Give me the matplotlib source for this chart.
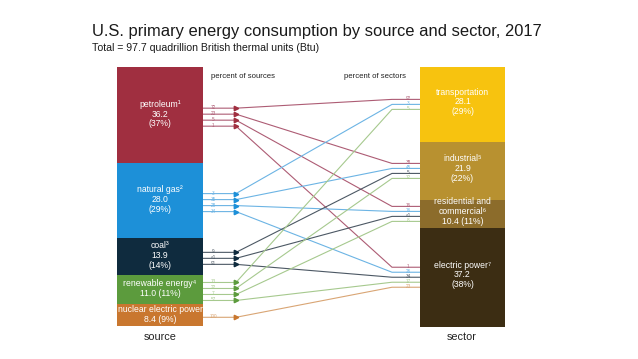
import matplotlib
matplotlib.use("Agg")
import matplotlib.pyplot as plt
from matplotlib.patches import Rectangle

plt.rcParams['font.family'] = ['Liberation Sans', 'DejaVu Sans']

# ---------------- data ----------------
title = "U.S. primary energy consumption by source and sector, 2017"
subtitle = "Total = 97.7 quadrillion British thermal units (Btu)"
total = 97.7

sources = ["petroleum", "natural gas", "coal", "renewable energy", "nuclear electric power"]
source_labels = ["petroleum\u00b9\n36.2\n(37%)", "natural gas\u00b2\n28.0\n(29%)",
                 "coal\u00b3\n13.9\n(14%)", "renewable energy\u2074\n11.0 (11%)",
                 "nuclear electric power\n8.4 (9%)"]
source_values = [36.2, 28.0, 13.9, 11.0, 8.4]

sectors = ["transportation", "industrial", "residential and commercial", "electric power"]
sector_labels = ["transportation\n28.1\n(29%)", "industrial\u2075\n21.9\n(22%)",
                 "residential and\ncommercial\u2076\n10.4 (11%)", "electric power\u2077\n37.2\n(38%)"]
sector_values = [28.1, 21.9, 10.4, 37.2]

# flows: (source index, sector index, percent of source, percent of sector)
flow_source = [0, 0, 0, 0, 1, 1, 1, 1, 2, 2, 2, 3, 3, 3, 3, 4]
flow_sector = [0, 1, 2, 3, 0, 1, 2, 3, 1, 2, 3, 0, 1, 2, 3, 3]
pct_of_source = ["72", "23", "5", "1", "3", "35", "28", "34", "9", "<1", "91", "13", "22", "7", "57", "100"]
pct_of_sector = ["92", "38", "16", "1", "3", "45", "76", "26", "5", "<1", "34", "5", "12", "8", "17", "23"]

# ---------------- styles ----------------
src_colors = ["#a02f40", "#1d90d8", "#0f2b3e", "#5c9b3d", "#c9772f"]
src_line_colors = ["#ad5c74", "#6cb4e4", "#4c5864", "#a6c98e", "#d9a574"]
sec_colors = ["#f7c30f", "#b89130", "#8c6c2b", "#3c2d13"]

W, H = 638, 359
fig = plt.figure(figsize=(W / 100, H / 100), dpi=100)
ax = fig.add_axes([0, 0, 1, 1])
ax.set_xlim(0, W)
ax.set_ylim(H, 0)
ax.axis("off")

top = 67
span = 260.0
scale = span / total

lx0, lx1 = 117, 203
rx0, rx1 = 420, 505

# source boxes
src_centers = []
y = top
for i, v in enumerate(source_values):
    h = v * scale
    ax.add_patch(Rectangle((lx0, y), lx1 - lx0, h, facecolor=src_colors[i], edgecolor="none"))
    src_centers.append(y + h / 2)
    ax.text((lx0 + lx1) / 2, y + h / 2 - 1, source_labels[i], ha="center", va="center",
            color="white", fontsize=6.2, linespacing=1.1)
    y += h

# sector boxes
sec_centers = []
y = top
for j, v in enumerate(sector_values):
    h = v * scale
    ax.add_patch(Rectangle((rx0, y), rx1 - rx0, h, facecolor=sec_colors[j], edgecolor="none"))
    sec_centers.append(y + h / 2)
    ax.text((rx0 + rx1) / 2, y + h / 2 - 2.5, sector_labels[j], ha="center", va="center",
            color="white", fontsize=6.2, linespacing=1.1)
    y += h

# row positions
left_rows = {}
for i in range(len(sources)):
    idx = [k for k in range(len(flow_source)) if flow_source[k] == i]
    n = len(idx)
    for r, k in enumerate(idx):
        left_rows[k] = src_centers[i] + 2 + (r - (n - 1) / 2) * 6.0
right_rows = {}
for j in range(len(sectors)):
    idx = [k for k in range(len(flow_sector)) if flow_sector[k] == j]
    n = len(idx)
    for r, k in enumerate(idx):
        right_rows[k] = sec_centers[j] + (r - (n - 1) / 2) * 5.0

ax_ = 236
bx_ = 392
for k in range(len(flow_source)):
    s = flow_source[k]
    yl = left_rows[k]
    yr = right_rows[k]
    c = src_line_colors[s]
    ax.plot([lx1, ax_, bx_, rx0], [yl, yl, yr, yr], color=c, lw=0.8, zorder=2,
            solid_capstyle="butt")
    ax.plot([ax_], [yl], marker=">", color=src_colors[s],
            markersize=3.2, zorder=3)
    ax.text(213, yl - 0.5, pct_of_source[k], ha="center", va="center", fontsize=3.3,
            color=src_line_colors[s], zorder=4)
    ax.text(408, yr - 0.5, pct_of_sector[k], ha="center", va="center", fontsize=3.3,
            color=src_line_colors[s], zorder=4)

# titles and labels
ax.text(92, 36, title, ha="left", va="baseline", fontsize=11.9, color="#1a1a1a")
ax.text(92, 51, subtitle, ha="left", va="baseline", fontsize=7.6, color="#1a1a1a")
ax.text(243, 77, "percent of sources", ha="center", va="center", fontsize=5.6, color="#222222")
ax.text(375, 77, "percent of sectors", ha="center", va="center", fontsize=5.6, color="#222222")
ax.text(160, 337, "source", ha="center", va="center", fontsize=7.8, color="#222222")
ax.text(462, 337, "sector", ha="center", va="center", fontsize=7.8, color="#222222")

fig.savefig("out.png", dpi=100, facecolor="white")
